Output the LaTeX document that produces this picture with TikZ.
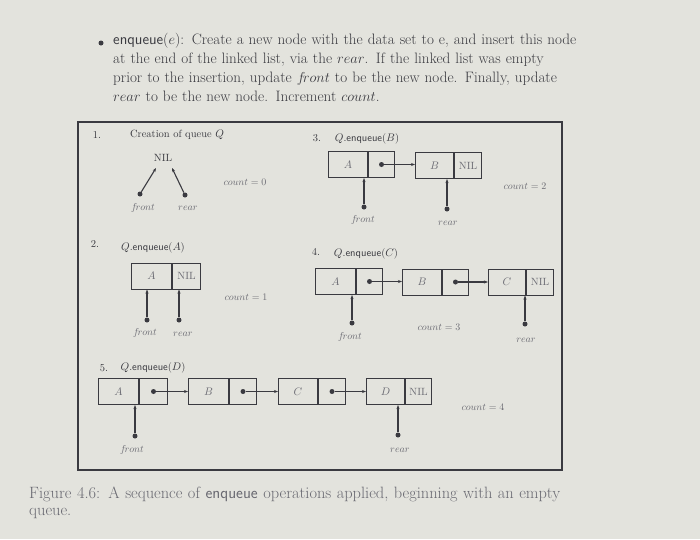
\documentclass[tikz,border=0pt]{standalone}
\usepackage{amsmath}
\usetikzlibrary{arrows.meta}
\definecolor{bg}{HTML}{E3E3DD}
\definecolor{ink}{HTML}{3A3A40}
\definecolor{lite}{HTML}{6A6A72}
\begin{document}
\begin{tikzpicture}[x=1pt,y=-1pt,
  cell/.style={draw=ink,line width=1pt,minimum height=26pt,inner sep=0pt,font=\fontsize{10.5}{12}\selectfont,text=lite},
  ptr/.style={-{Stealth[length=4pt,width=3pt]},draw=ink,line width=1.1pt},
  dotn/.style={circle,fill=ink,inner sep=0pt,minimum size=5pt},
  lbl/.style={font=\fontsize{10}{12}\selectfont,text=lite,inner sep=1pt},
  head/.style={font=\fontsize{10.5}{12}\selectfont,text=ink,inner sep=1pt}]
\useasboundingbox[fill=bg] (0,0) rectangle (700,539);
% body text
\node[anchor=north west,inner sep=0pt,text width=492pt,text=ink,font=\fontsize{15.1}{19}\selectfont] (body) at (113,33)
{{\sffamily enqueue}($e$): Create a new node with the data set to e, and insert this node\linebreak
at the end of the linked list, via the $rear$. If the linked list was empty\linebreak
prior to the insertion, update $f\!ront$ to be the new node. Finally, update\linebreak
$rear$ to be the new node. Increment $count$.};
\node[circle,fill=ink,inner sep=0pt,minimum size=5pt] (bul) at (101,43) {};
% frame
\draw[ink,line width=1.1pt] (78,122) rectangle (562,470);
% caption
\node[anchor=north west,inner sep=0pt,text width=575pt,text=lite,font=\fontsize{16.4}{17}\selectfont] (cap) at (29,487)
{Figure 4.6: A sequence of {\sffamily enqueue} operations applied, beginning with an empty\linebreak
queue.};
% ---- 1
\node[head] (h1n) at (97,135) {1.};
\node[head] (h1) at (177,135) {Creation of queue $Q$};
\node[head] (nil0) at (163,158) {NIL};
\node[dotn] (f0) at (140,194) {};
\node[dotn] (r0) at (185,195) {};
\draw[ptr] (f0) -- (156,168);
\draw[ptr] (r0) -- (172,168);
\node[lbl] (f0l) at (143,208) {$f\!ront$};
\node[lbl] (r0l) at (188,208) {$rear$};
\node[lbl] (c0) at (245,182) {$count=0$};
% ---- 2
\node[head] (h2n) at (95,244) {2.};
\node[head] (h2) at (153,248) {$Q$.{\sffamily enqueue}($A$)};
\node[cell,minimum width=40pt,anchor=west] (a2a) at (131,276) {$A$};
\node[cell,minimum width=28pt,anchor=west] (a2b) at (a2a.east) {NIL};
\node[dotn] (f2) at (147,320) {};
\node[dotn] (r2) at (179,320) {};
\draw[ptr] (f2) -- (f2 |- a2a.south);
\draw[ptr] (r2) -- (r2 |- a2a.south);
\node[lbl] (f2l) at (145,333) {$f\!ront$};
\node[lbl] (r2l) at (183,334) {$rear$};
\node[lbl] (c1) at (246,297) {$count=1$};
% ---- 3
\node[head] (h3n) at (317,138) {3.};
\node[head] (h3) at (367,139) {$Q$.{\sffamily enqueue}($B$)};
\node[cell,minimum width=39pt,anchor=west] (b3a) at (328,164.5) {$A$};
\node[cell,minimum width=26pt,anchor=west] (b3b) at (b3a.east) {};
\node[cell,minimum width=38pt,anchor=west] (b3c) at (415,165.5) {$B$};
\node[cell,minimum width=27pt,anchor=west] (b3d) at (b3c.east) {NIL};
\node[dotn] (p3) at (b3b.center) {};
\draw[ptr] (p3) -- (b3c.west |- p3);
\node[dotn] (f3) at (364,207) {};
\node[dotn] (r3) at (447,209) {};
\draw[ptr] (f3) -- (f3 |- b3a.south);
\draw[ptr] (r3) -- (r3 |- b3c.south);
\node[lbl] (f3l) at (363,220) {$f\!ront$};
\node[lbl] (r3l) at (448,223) {$rear$};
\node[lbl] (c2) at (525,186) {$count=2$};
% ---- 4
\node[head] (h4n) at (316,252) {4.};
\node[head] (h4) at (366,254) {$Q$.{\sffamily enqueue}($C$)};
\node[cell,minimum width=40pt,anchor=west] (c4a) at (315,281.5) {$A$};
\node[cell,minimum width=26pt,anchor=west] (c4b) at (c4a.east) {};
\node[cell,minimum width=39pt,anchor=west] (c4c) at (402,282) {$B$};
\node[cell,minimum width=26pt,anchor=west] (c4d) at (c4c.east) {};
\node[cell,minimum width=37pt,anchor=west] (c4e) at (488,282) {$C$};
\node[cell,minimum width=27pt,anchor=west] (c4f) at (c4e.east) {NIL};
\node[dotn] (p4a) at (c4b.center) {};
\node[dotn] (p4b) at (c4d.center) {};
\draw[ptr] (p4a) -- (c4c.west |- p4a);
\draw[ptr] (p4b) -- (c4e.west |- p4b);
\node[dotn] (f4) at (352,323) {};
\node[dotn] (r4) at (525,324) {};
\draw[ptr] (f4) -- (f4 |- c4a.south);
\draw[ptr] (r4) -- (r4 |- c4e.south);
\node[lbl] (f4l) at (350,337) {$f\!ront$};
\node[lbl] (r4l) at (526,340) {$rear$};
\node[lbl] (c3) at (439,327) {$count=3$};
% ---- 5
\node[head] (h5n) at (104,368) {5.};
\node[head] (h5) at (153,368) {$Q$.{\sffamily enqueue}($D$)};
\node[cell,minimum width=40pt,anchor=west] (d5a) at (98,391.5) {$A$};
\node[cell,minimum width=28pt,anchor=west] (d5b) at (d5a.east) {};
\node[cell,minimum width=40pt,anchor=west] (d5c) at (188,391.5) {$B$};
\node[cell,minimum width=27pt,anchor=west] (d5d) at (d5c.east) {};
\node[cell,minimum width=39pt,anchor=west] (d5e) at (278,391.5) {$C$};
\node[cell,minimum width=27pt,anchor=west] (d5f) at (d5e.east) {};
\node[cell,minimum width=38pt,anchor=west] (d5g) at (366,391.5) {$D$};
\node[cell,minimum width=26pt,anchor=west] (d5h) at (d5g.east) {NIL};
\node[dotn] (p5a) at (d5b.center) {};
\node[dotn] (p5b) at (d5d.center) {};
\node[dotn] (p5c) at (d5f.center) {};
\draw[ptr] (p5a) -- (d5c.west |- p5a);
\draw[ptr] (p5b) -- (d5e.west |- p5b);
\draw[ptr] (p5c) -- (d5g.west |- p5c);
\node[dotn] (f5) at (135,436) {};
\node[dotn] (r5) at (398,435) {};
\draw[ptr] (f5) -- (f5 |- d5a.south);
\draw[ptr] (r5) -- (r5 |- d5g.south);
\node[lbl] (f5l) at (132,450) {$f\!ront$};
\node[lbl] (r5l) at (400,450) {$rear$};
\node[lbl] (c4) at (483,407) {$count=4$};
\end{tikzpicture}
\end{document}
